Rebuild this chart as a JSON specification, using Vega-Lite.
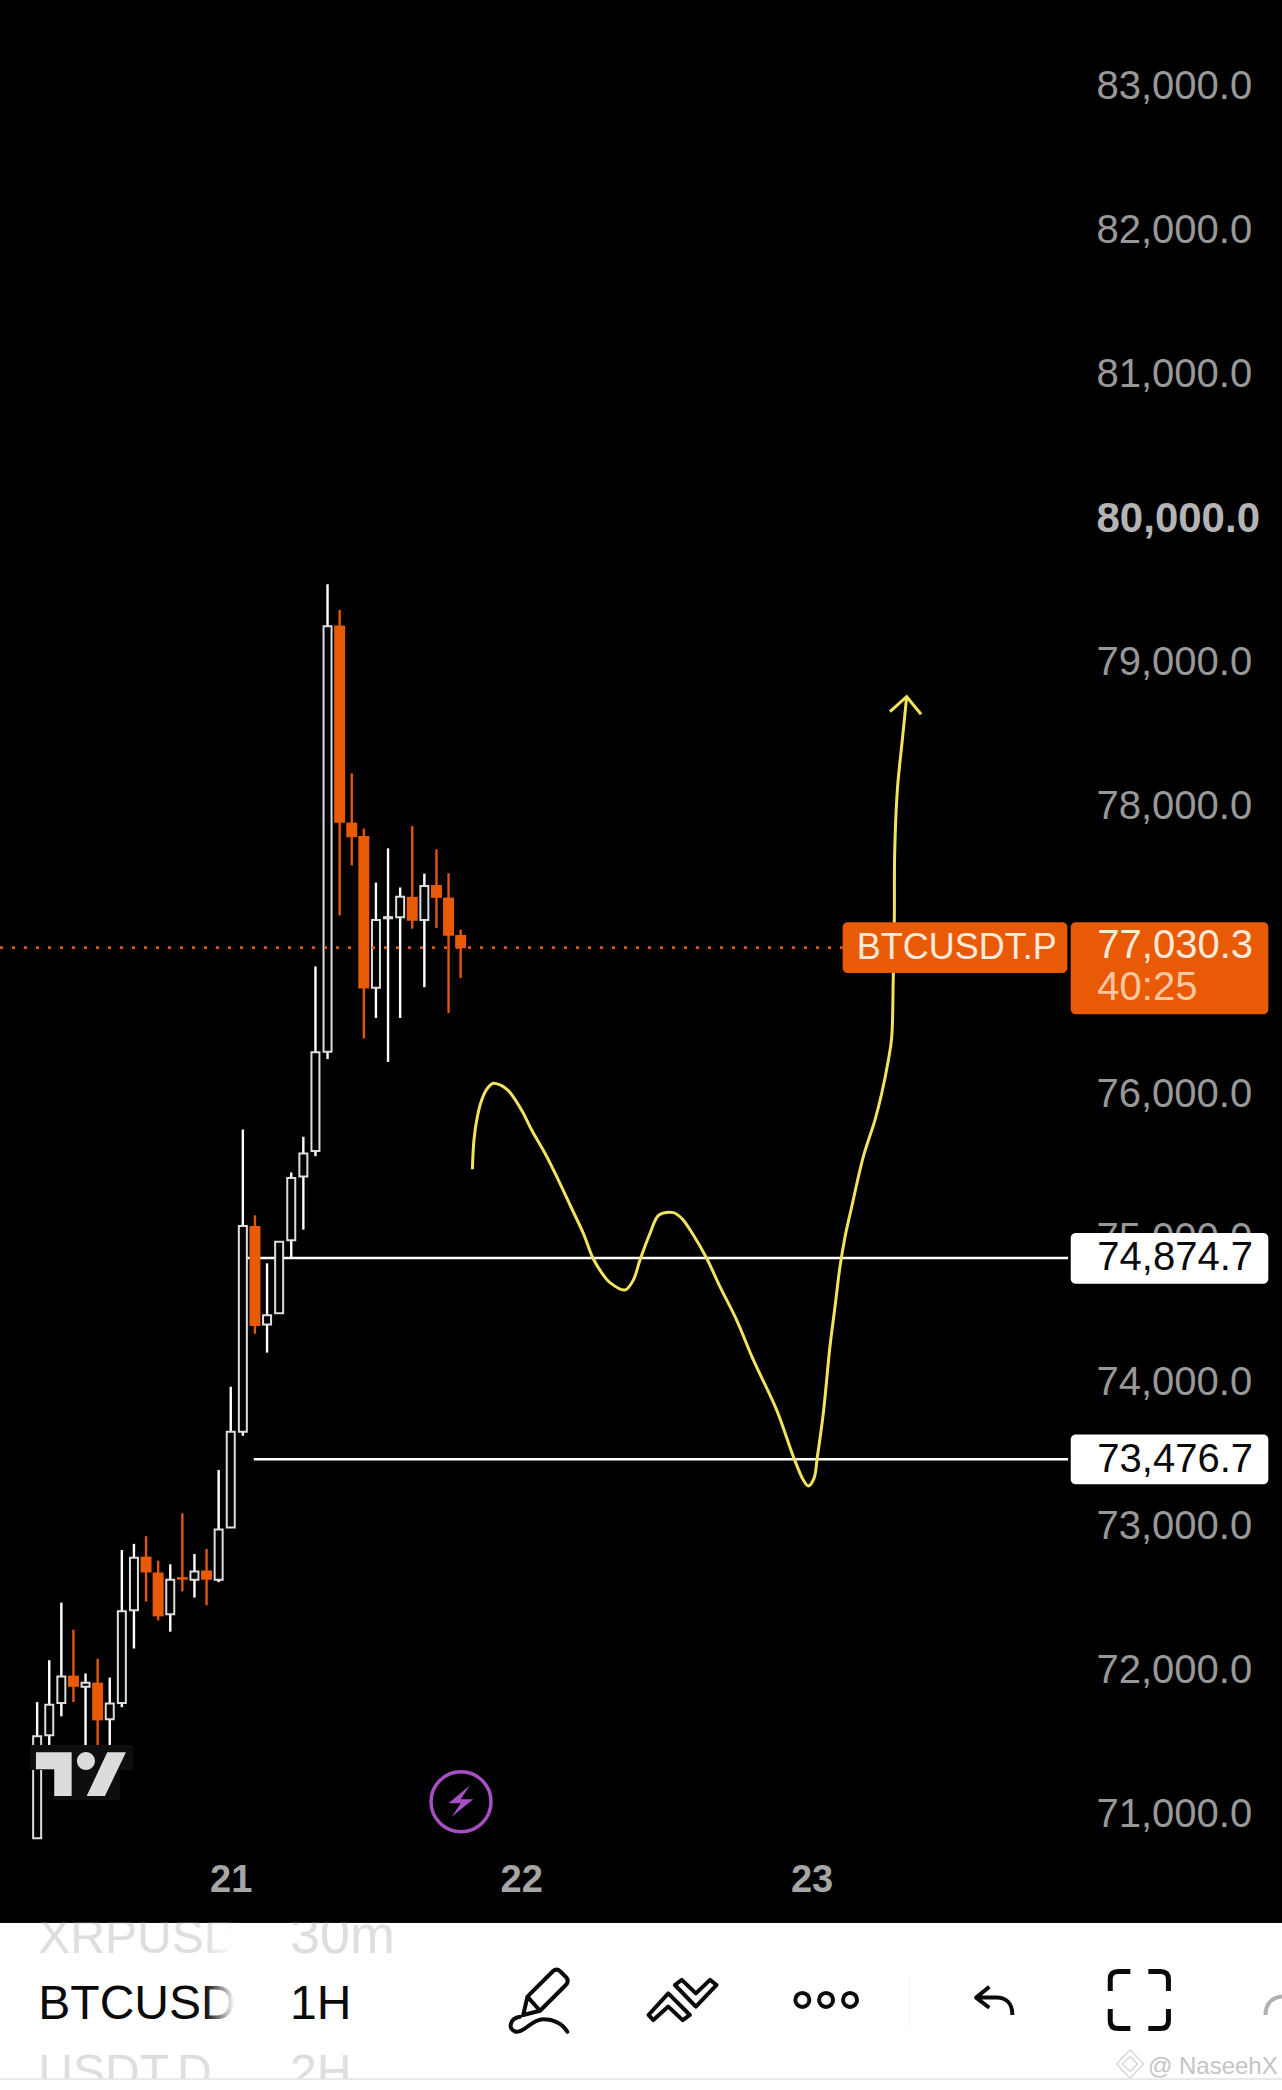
{
  "$schema": "https://vega.github.io/schema/vega-lite/v6.json",
  "width": 1282,
  "height": 2090,
  "autosize": "none",
  "padding": 0,
  "background": "#000000",
  "view": {"stroke": null},
  "config": {"font": "Liberation Sans", "text": {"font": "Liberation Sans"}},
  "resolve": {"scale": {"color": "independent"}, "axis": {"x": "independent", "y": "independent"}},
  "datasets": {
    "candles": [
      {"hour": 488, "open": 70845, "high": 71791, "low": 70845, "close": 71554},
      {"hour": 489, "open": 71561, "high": 72082, "low": 71490, "close": 71773},
      {"hour": 490, "open": 71784, "high": 72482, "low": 71692, "close": 71968},
      {"hour": 491, "open": 71975, "high": 72294, "low": 71791, "close": 71897},
      {"hour": 492, "open": 71897, "high": 71990, "low": 71490, "close": 71926},
      {"hour": 493, "open": 71926, "high": 72092, "low": 71455, "close": 71664},
      {"hour": 494, "open": 71671, "high": 71961, "low": 71490, "close": 71781},
      {"hour": 495, "open": 71784, "high": 72847, "low": 71756, "close": 72422},
      {"hour": 496, "open": 72429, "high": 72890, "low": 72163, "close": 72794},
      {"hour": 497, "open": 72801, "high": 72943, "low": 72489, "close": 72691},
      {"hour": 498, "open": 72691, "high": 72773, "low": 72358, "close": 72386},
      {"hour": 499, "open": 72401, "high": 72748, "low": 72280, "close": 72641},
      {"hour": 500, "open": 72659, "high": 73102, "low": 72560, "close": 72641},
      {"hour": 501, "open": 72641, "high": 72819, "low": 72517, "close": 72698},
      {"hour": 502, "open": 72705, "high": 72854, "low": 72464, "close": 72641},
      {"hour": 503, "open": 72641, "high": 73403, "low": 72624, "close": 72989},
      {"hour": 504, "open": 73003, "high": 73981, "low": 73003, "close": 73669},
      {"hour": 505, "open": 73669, "high": 75767, "low": 73641, "close": 75097},
      {"hour": 506, "open": 75097, "high": 75171, "low": 74349, "close": 74402},
      {"hour": 507, "open": 74413, "high": 74838, "low": 74218, "close": 74477},
      {"hour": 508, "open": 74491, "high": 74987, "low": 74491, "close": 74987},
      {"hour": 509, "open": 74998, "high": 75469, "low": 74881, "close": 75430},
      {"hour": 510, "open": 75441, "high": 75717, "low": 75072, "close": 75600},
      {"hour": 511, "open": 75618, "high": 76900, "low": 75582, "close": 76304},
      {"hour": 512, "open": 76307, "high": 79553, "low": 76257, "close": 79263},
      {"hour": 513, "open": 79268, "high": 79375, "low": 77254, "close": 77897},
      {"hour": 514, "open": 77899, "high": 78241, "low": 77601, "close": 77797},
      {"hour": 515, "open": 77805, "high": 77857, "low": 76399, "close": 76746},
      {"hour": 516, "open": 76751, "high": 77482, "low": 76542, "close": 77222},
      {"hour": 517, "open": 77234, "high": 77720, "low": 76237, "close": 77242},
      {"hour": 518, "open": 77242, "high": 77448, "low": 76542, "close": 77383},
      {"hour": 519, "open": 77383, "high": 77874, "low": 77162, "close": 77217},
      {"hour": 520, "open": 77222, "high": 77544, "low": 76756, "close": 77458},
      {"hour": 521, "open": 77465, "high": 77713, "low": 77167, "close": 77376},
      {"hour": 522, "open": 77378, "high": 77547, "low": 76577, "close": 77113},
      {"hour": 523, "open": 77118, "high": 77155, "low": 76820, "close": 77026}
    ],
    "curve": [
      {"hour": 523.97, "price": 75491}, {"hour": 524.1, "price": 75694}, {"hour": 524.38, "price": 75856},
      {"hour": 524.74, "price": 75972}, {"hour": 525.15, "price": 76046}, {"hour": 525.7, "price": 76088},
      {"hour": 526.39, "price": 76072}, {"hour": 526.94, "price": 76037}, {"hour": 527.49, "price": 75977},
      {"hour": 528.18, "price": 75880}, {"hour": 528.87, "price": 75764}, {"hour": 529.97, "price": 75602},
      {"hour": 530.94, "price": 75440}, {"hour": 532.04, "price": 75243}, {"hour": 533.14, "price": 75046},
      {"hour": 533.97, "price": 74868}, {"hour": 534.79, "price": 74757}, {"hour": 535.34, "price": 74704},
      {"hour": 536.58, "price": 74653}, {"hour": 537.27, "price": 74722}, {"hour": 537.82, "price": 74861},
      {"hour": 538.65, "price": 75046}, {"hour": 539.39, "price": 75174}, {"hour": 540.58, "price": 75190},
      {"hour": 541.27, "price": 75150}, {"hour": 542.23, "price": 75035}, {"hour": 543.33, "price": 74873},
      {"hour": 544.43, "price": 74676}, {"hour": 545.81, "price": 74444}, {"hour": 547.19, "price": 74167},
      {"hour": 549.12, "price": 73819}, {"hour": 550.5, "price": 73495}, {"hour": 551.32, "price": 73333},
      {"hour": 551.73, "price": 73292}, {"hour": 552.2, "price": 73345}, {"hour": 552.48, "price": 73495},
      {"hour": 552.97, "price": 73796}, {"hour": 553.52, "price": 74259}, {"hour": 553.94, "price": 74537},
      {"hour": 554.35, "price": 74815}, {"hour": 554.77, "price": 75023}, {"hour": 555.32, "price": 75231},
      {"hour": 556.28, "price": 75579}, {"hour": 557.24, "price": 75833}, {"hour": 557.8, "price": 76019},
      {"hour": 558.35, "price": 76250}, {"hour": 558.62, "price": 76403}, {"hour": 558.75, "price": 76806},
      {"hour": 558.84, "price": 77226}, {"hour": 558.87, "price": 77687}, {"hour": 559.09, "price": 78125},
      {"hour": 559.53, "price": 78495}, {"hour": 559.86, "price": 78773}
    ],
    "arrowhead": [
      {"hour": 558.48, "price": 78669}, {"hour": 559.86, "price": 78773}, {"hour": 561.05, "price": 78651}
    ]
  },
  "encoding": {
    "x": {
      "field": "hour",
      "type": "quantitative",
      "scale": {"domain": [484.93, 590.88], "nice": false, "zero": false, "padding": 0},
      "axis": null
    },
    "y": {
      "field": "price",
      "type": "quantitative",
      "scale": {"domain": [69097.2, 83611.1], "nice": false, "zero": false},
      "axis": null
    }
  },
  "layer": [
    {
      "data": {"values": [{"hour": 505, "hour2": 573.2, "price": 74874.7}, {"hour": 505.9, "hour2": 573.2, "price": 73476.7}]},
      "mark": {"type": "rule", "color": "#ffffff", "strokeWidth": 2.5},
      "encoding": {
        "x": {
          "field": "hour",
          "type": "quantitative",
          "scale": {"domain": [484.93, 590.88], "nice": false, "zero": false, "padding": 0},
          "axis": {
            "orient": "top",
            "values": [504, 528, 552],
            "labelExpr": "datum.value / 24",
            "title": null,
            "grid": false,
            "domain": false,
            "ticks": false,
            "tickSize": 0,
            "labelPadding": -1899,
            "labelFontSize": 38,
            "labelFontWeight": "bold",
            "labelColor": "#a6a6a6",
            "labelFont": "Liberation Sans",
            "labelBound": false,
            "labelFlush": false,
            "labelOverlap": false
          }
        },
        "x2": {"field": "hour2"},
        "y": {
          "field": "price",
          "type": "quantitative",
          "scale": {"domain": [69097.2, 83611.1], "nice": false, "zero": false},
          "axis": {
            "orient": "left",
            "values": [71000, 72000, 73000, 74000, 75000, 76000, 77000, 78000, 79000, 80000, 81000, 82000, 83000],
            "format": ",.1f",
            "title": null,
            "grid": false,
            "domain": false,
            "ticks": false,
            "tickSize": 0,
            "labelAlign": "left",
            "labelPadding": -1096,
            "labelOffset": -1,
            "labelFontSize": {"condition": {"test": "datum.value == 80000", "value": 42}, "value": 40},
            "labelFont": "Liberation Sans",
            "labelColor": {"condition": {"test": "datum.value == 80000", "value": "#b4b4b4"}, "value": "#989898"},
            "labelFontWeight": {"condition": {"test": "datum.value == 80000", "value": "bold"}, "value": "normal"},
            "labelBound": false,
            "labelFlush": false,
            "labelOverlap": false
          }
        }
      }
    },
    {
      "data": {"name": "candles"},
      "mark": {"type": "rule", "strokeWidth": 2.4},
      "encoding": {
        "y": {"field": "low", "type": "quantitative", "axis": null},
        "y2": {"field": "high"},
        "color": {"condition": {"test": "datum.close >= datum.open", "value": "#ffffff"}, "value": "#e2570f"}
      }
    },
    {
      "data": {"name": "candles"},
      "transform": [{"filter": "datum.close >= datum.open"}],
      "mark": {"type": "bar", "orient": "vertical", "size": 8, "fill": "#000000", "stroke": "#dcdcdc", "strokeWidth": 2},
      "encoding": {
        "y": {"field": "open", "type": "quantitative", "axis": null},
        "y2": {"field": "close"}
      }
    },
    {
      "data": {"name": "candles"},
      "transform": [{"filter": "datum.close < datum.open"}],
      "mark": {"type": "bar", "orient": "vertical", "size": 11, "fill": "#e85a05"},
      "encoding": {
        "y": {"field": "open", "type": "quantitative", "axis": null},
        "y2": {"field": "close"}
      }
    },
    {
      "data": {"values": [{"hour": 484.93, "hour2": 554.57, "price": 77030.3}]},
      "mark": {"type": "rule", "color": "#d9571a", "strokeWidth": 2.8, "strokeDash": [3, 9]},
      "encoding": {"x2": {"field": "hour2"}}
    },
    {
      "data": {"values": [
        {"hour": 487.41, "hour2": 495.92, "price": 71493, "price2": 71319.5},
        {"hour": 489.4, "hour2": 494.84, "price": 71319.5, "price2": 71111}
      ]},
      "mark": {"type": "rect", "fill": "#0e0e0e"},
      "encoding": {"x2": {"field": "hour2"}, "y2": {"field": "price2"}}
    },
    {
      "data": {"values": [{"hour": 491.48, "price": 71291.7}]},
      "mark": {
        "type": "point",
        "shape": "M-.866 -.434 L-.152 -.434 L-.152 .44 L-.5 .44 L-.5 -.094 L-.866 -.094 Z M-.046 -.26 A.18 .18 0 1 0 .314 -.26 A.18 .18 0 1 0 -.046 -.26 Z M.56 -.434 L.934 -.434 L.514 .44 L.148 .44 Z",
        "size": 10000,
        "filled": true,
        "fill": "#dcdcdc",
        "strokeWidth": 0,
        "opacity": 1
      }
    },
    {
      "data": {"name": "curve"},
      "mark": {"type": "line", "color": "#f2e35f", "strokeWidth": 3, "interpolate": "catmull-rom"},
      "encoding": {"x": {"field": "hour", "type": "quantitative", "sort": null, "axis": null}}
    },
    {
      "data": {"name": "arrowhead"},
      "mark": {"type": "line", "color": "#f2e35f", "strokeWidth": 3},
      "encoding": {"x": {"field": "hour", "type": "quantitative", "sort": null, "axis": null}}
    },
    {
      "data": {"values": [{"hour": 523.03, "price": 71099.4}]},
      "mark": {"type": "point", "shape": "circle", "size": 3600, "filled": false, "stroke": "#a64fc4", "strokeWidth": 3.5, "opacity": 1}
    },
    {
      "data": {"values": [{"hour": 523.03, "price": 71099.4}]},
      "mark": {
        "type": "point",
        "shape": "M.3 -.55 L-.42 .05 L-.01 .05 L-.31 .5 L.41 -.08 L-.01 -.08 Z",
        "size": 3600,
        "filled": true,
        "fill": "#a64fc4",
        "strokeWidth": 0,
        "opacity": 1
      }
    },
    {
      "data": {"values": [
        {"hour": 554.57, "hour2": 573.14, "price": 77206, "price2": 76855, "part": "orange"},
        {"hour": 573.42, "hour2": 589.75, "price": 77206, "price2": 76567, "part": "orange"},
        {"hour": 573.42, "hour2": 589.75, "price": 75049, "price2": 74697, "part": "white"},
        {"hour": 573.42, "hour2": 589.75, "price": 73650, "price2": 73304, "part": "white"}
      ]},
      "mark": {"type": "rect", "cornerRadius": 5},
      "encoding": {
        "x2": {"field": "hour2"},
        "y2": {"field": "price2"},
        "color": {"field": "part", "type": "nominal", "legend": null, "scale": {"domain": ["orange", "white"], "range": ["#e85a05", "#ffffff"]}}
      }
    },
    {
      "data": {"values": [{"hour": 555.73, "price": 77030, "label": "BTCUSDT.P"}]},
      "mark": {"type": "text", "align": "left", "baseline": "middle", "fontSize": 36, "font": "Liberation Sans", "color": "#ffeadb"},
      "encoding": {"text": {"field": "label"}}
    },
    {
      "data": {"values": [
        {"hour": 575.62, "price": 77040, "label": "77,030.3", "part": "light"},
        {"hour": 575.62, "price": 76753, "label": "40:25", "part": "dim"},
        {"hour": 575.62, "price": 74876, "label": "74,874.7", "part": "dark"},
        {"hour": 575.62, "price": 73475, "label": "73,476.7", "part": "dark"}
      ]},
      "mark": {"type": "text", "align": "left", "baseline": "middle", "fontSize": 40, "font": "Liberation Sans"},
      "encoding": {
        "text": {"field": "label"},
        "color": {"field": "part", "type": "nominal", "legend": null, "scale": {"domain": ["light", "dim", "dark"], "range": ["#ffeadb", "#ffc79f", "#0a0a0a"]}}
      }
    },
    {
      "data": {"values": [{"hour": 484.93, "hour2": 590.88, "price": 70259, "price2": 69097.2}]},
      "mark": {"type": "rect", "fill": "#ffffff"},
      "encoding": {"x2": {"field": "hour2"}, "y2": {"field": "price2"}}
    },
    {
      "data": {"values": [
        {"hour": 488.1, "price": 70050, "label": "XRPUSD", "part": "faded"},
        {"hour": 488.1, "price": 69592, "label": "BTCUSD", "part": "active"},
        {"hour": 508.9, "price": 69592, "label": "1H", "part": "active"},
        {"hour": 488.1, "price": 69110, "label": "USDT.D", "part": "faded"},
        {"hour": 508.9, "price": 69110, "label": "2H", "part": "faded"}
      ]},
      "mark": {"type": "text", "align": "left", "baseline": "alphabetic", "fontSize": 48, "font": "Liberation Sans"},
      "encoding": {
        "text": {"field": "label"},
        "color": {"field": "part", "type": "nominal", "legend": null, "scale": {"domain": ["active", "faded"], "range": ["#0a0a0a", "#dedede"]}}
      }
    },
    {
      "data": {"values": [{"hour": 508.9, "price": 70050, "label": "30m"}]},
      "mark": {"type": "text", "align": "left", "baseline": "alphabetic", "fontSize": 54, "font": "Liberation Sans", "color": "#dedede"},
      "encoding": {"text": {"field": "label"}}
    },
    {
      "data": {"values": [{"hour": 501.87, "hour2": 504.76, "price": 70259, "price2": 69173.7}]},
      "mark": {"type": "rect", "fill": {"gradient": "linear", "x1": 0, "x2": 1, "y1": 0, "y2": 0, "stops": [{"offset": 0, "color": "rgba(255,255,255,0)"}, {"offset": 0.85, "color": "#ffffff"}, {"offset": 1, "color": "#ffffff"}]}},
      "encoding": {"x2": {"field": "hour2"}, "y2": {"field": "price2"}}
    },
    {
      "data": {"values": [{"hour": 484.93, "hour2": 590.88, "price": 70416.7, "price2": 70259}]},
      "mark": {"type": "rect", "fill": "#000000"},
      "encoding": {"x2": {"field": "hour2"}, "y2": {"field": "price2"}}
    },
    {
      "data": {"values": [{"hour": 484.93, "hour2": 590.88, "price": 69173.7, "price2": 69097.2}]},
      "mark": {"type": "rect", "fill": "#ffffff"},
      "encoding": {"x2": {"field": "hour2"}, "y2": {"field": "price2"}}
    },
    {
      "data": {"values": [{"hour": 484.93, "hour2": 590.88, "price": 69173.7}]},
      "mark": {"type": "rule", "color": "#e2e2e2", "strokeWidth": 1.5},
      "encoding": {"x2": {"field": "hour2"}}
    },
    {
      "data": {"values": [{"hour": 560.13, "price": 69900, "price2": 69540}]},
      "mark": {"type": "rule", "color": "#f1f1f1", "strokeWidth": 1},
      "encoding": {"y2": {"field": "price2"}}
    },
    {
      "data": {"values": [{"hour": 529.56, "price": 69722.3}]},
      "mark": {
        "type": "point",
        "shape": "M-.56 .5 L-.42 -.11 L.42 -.95 Q.55 -1.07 .68 -.95 L.88 -.75 Q.97 -.62 .86 -.5 L0 .36 Z M-.42 -.11 L0 .36 M-.67 .56 C-1 .6 -1.1 1 -.8 1.06 C-.5 1.1 -.3 .64 .1 .64 C.5 .64 .75 .8 .91 1.06",
        "size": 3600,
        "filled": false,
        "stroke": "#0a0a0a",
        "strokeWidth": 4,
        "strokeCap": "round",
        "strokeJoin": "round",
        "opacity": 1
      }
    },
    {
      "data": {"values": [{"hour": 541.35, "price": 69722.3}]},
      "mark": {
        "type": "point",
        "shape": "M-1.14 .5 L-.48 -.22 L.24 .5 L0 .67 L-.48 .22 L-.98 .67 Z M-.26 -.5 L-.03 -.67 L.44 -.22 L.91 -.67 L1.13 -.5 L.44 .22 Z",
        "size": 3600,
        "filled": false,
        "stroke": "#0a0a0a",
        "strokeWidth": 4,
        "strokeJoin": "round",
        "opacity": 1
      }
    },
    {
      "data": {"values": [{"hour": 551.24, "price": 69722.3}, {"hour": 553.2, "price": 69722.3}, {"hour": 555.18, "price": 69722.3}]},
      "mark": {"type": "point", "shape": "circle", "size": 196, "filled": false, "stroke": "#0a0a0a", "strokeWidth": 4, "opacity": 1}
    },
    {
      "data": {"values": [{"hour": 567.16, "price": 69722.3}]},
      "mark": {
        "type": "point",
        "shape": "M-.19 -.44 L-.63 -.08 L-.19 .26 M-.63 -.08 L.05 -.08 C.35 -.08 .58 .1 .58 .5",
        "size": 3600,
        "filled": false,
        "stroke": "#0a0a0a",
        "strokeWidth": 4,
        "strokeJoin": "round",
        "opacity": 1
      }
    },
    {
      "data": {"values": [{"hour": 579.09, "price": 69722.3}]},
      "mark": {
        "type": "point",
        "shape": "M-.3 -.95 L-.7 -.95 Q-.97 -.95 -.97 -.7 L-.97 -.3 M.3 -.95 L.7 -.95 Q.97 -.95 .97 -.7 L.97 -.3 M-.3 .95 L-.7 .95 Q-.97 .95 -.97 .7 L-.97 .3 M.3 .95 L.7 .95 Q.97 .95 .97 .7 L.97 .3",
        "size": 3600,
        "filled": false,
        "stroke": "#0a0a0a",
        "strokeWidth": 5,
        "opacity": 1
      }
    },
    {
      "data": {"values": [{"hour": 590.88, "price": 69680.6}]},
      "mark": {
        "type": "point",
        "shape": "M-.55 .3 C-.55 -.1 -.3 -.3 0 -.32",
        "size": 3600,
        "filled": false,
        "stroke": "#b0b0b0",
        "strokeWidth": 4,
        "opacity": 1
      }
    },
    {
      "data": {"values": [{"hour": 578.32, "price": 69277.8}]},
      "mark": {
        "type": "point",
        "shape": "M0 -.95 L.9 0 L0 .95 L-.9 0 Z M-.5 0 L0 -.5 L.5 0 L0 .5 Z",
        "size": 900,
        "filled": false,
        "stroke": "#d8d8d8",
        "strokeWidth": 1.5,
        "opacity": 1
      }
    },
    {
      "data": {"values": [{"hour": 579.8, "price": 69208.4, "label": "@ NaseehX"}]},
      "mark": {"type": "text", "align": "left", "baseline": "alphabetic", "fontSize": 24, "font": "Liberation Sans", "color": "#c4c4c4"},
      "encoding": {"text": {"field": "label"}}
    }
  ]
}
